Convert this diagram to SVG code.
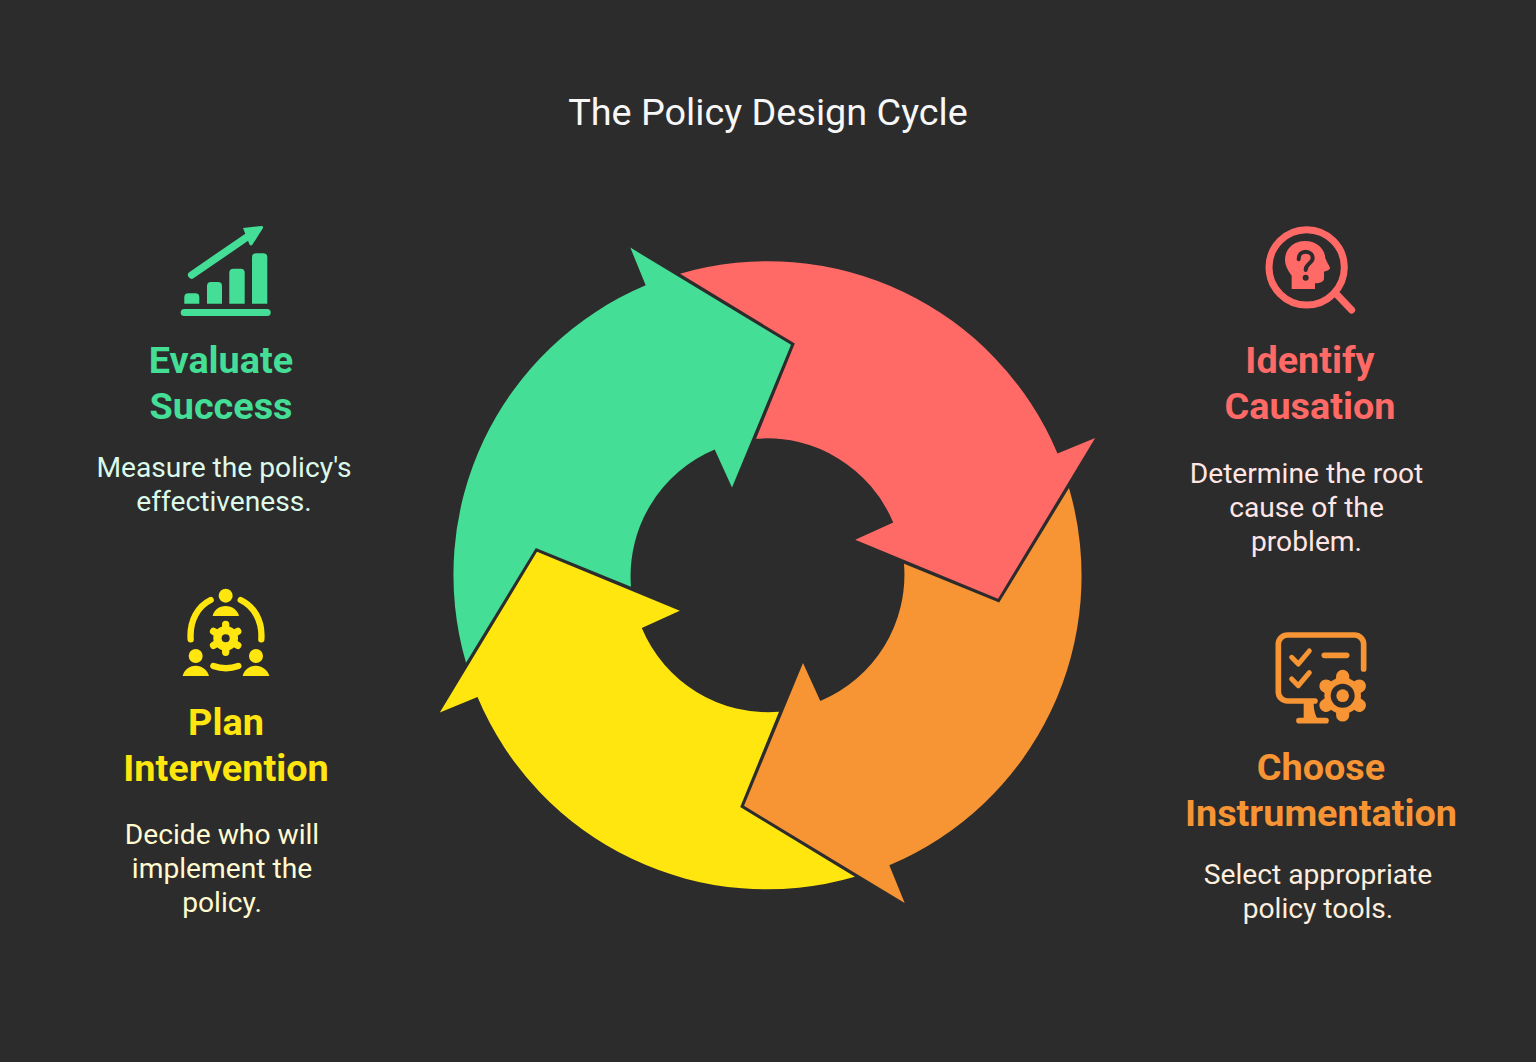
<svg xmlns="http://www.w3.org/2000/svg" width="1536" height="1062" viewBox="0 0 1536 1062">
<style>
text{font-family:Roboto,"Liberation Sans",sans-serif;text-anchor:middle}
.t{font-size:37.8px;font-weight:700}
.d{font-size:28.2px}
.title{font-size:37.8px;fill:#f7f7f7}
.ln{fill:none;stroke-linecap:round;stroke-linejoin:round}
.red{fill:#ff6966}.ora{fill:#f79434}.yel{fill:#ffe60f}.grn{fill:#44de96}
.sred{stroke:#ff6966}.sora{stroke:#f79434}.syel{stroke:#ffe60f}.sgrn{stroke:#44de96}
</style>
<defs>
<path id="arrow" d="M-87.4-301.5A314 314 0 0 1 290-121.8L327.7-137.2 230.5 23.5 87.7-35.5 125.7-52.8A137 137 0 0 0-11.5-136.5L27.3-231.7Z"/>
<g id="gear6"><line x1="0" y1="-1" x2="0" y2="1"/><line x1="-.866" y1="-.5" x2=".866" y2=".5"/><line x1="-.866" y1=".5" x2=".866" y2="-.5"/></g>
</defs>
<rect width="1536" height="1062" fill="#2c2c2c"/>
<text class="title" x="768" y="125">The Policy Design Cycle</text>
<g id="cycle" transform="translate(767.5 575.3)">
<use href="#arrow" class="red"/>
<use href="#arrow" class="ora" transform="rotate(90)"/>
<use href="#arrow" class="yel" transform="rotate(180)"/>
<use href="#arrow" class="grn" transform="rotate(270)"/>
</g>
<g id="identify">
<g transform="translate(1250 215) scale(.3333)">
<circle class="ln sred" cx="170" cy="157" r="113" stroke-width="21"/>
<line class="ln sred" x1="262" y1="240" x2="305" y2="285" stroke-width="21"/>
<path class="red" d="M125 222V182C112 165 105 150 105 135C105 100 132 78 165 78C200 78 224 100 226 130C232 145 240 155 240 160C238 166 230 168 222 170V190C222 200 212 205 195 205V222Z"/>
<path class="ln" stroke="#2c2c2c" stroke-width="12" d="M146 133C146 118 155 110 167 110C180 110 188 119 188 130C188 145 167 145 167 165"/>
<circle cx="167" cy="188" r="9" fill="#2c2c2c"/>
</g>
<text class="t red" x="1310" y="373">Identify</text>
<text class="t red" x="1310" y="418.5">Causation</text>
<g fill="#ffe6e5" class="d"><text x="1306.5" y="483">Determine the root</text><text x="1306.5" y="517">cause of the</text><text x="1306.5" y="551">problem.</text></g>
</g>
<g id="choose">
<g transform="translate(1265 625) scale(.3333)">
<path class="ln sora" stroke-width="17" d="M296 132V58C296 42 284 30 268 30H68C52 30 40 42 40 58V200C40 216 52 228 68 228H150"/>
<path class="ora" d="M116 228H146C146 250 148 265 158 282H116Z"/>
<line class="ln sora" stroke-width="17" x1="102" y1="287" x2="183" y2="287"/>
<path class="ln sora" stroke-width="15" d="M80 97L100 117L133 78M80 162L100 182L133 143"/>
<line class="ln sora" stroke-width="17" x1="178" y1="91" x2="245" y2="91"/>
<g transform="translate(233 212)">
<circle r="66" fill="#2c2c2c"/>
<use href="#gear6" transform="scale(58)" stroke="#2c2c2c" stroke-width=".9" stroke-linecap="round"/>
<circle r="55" class="ora"/>
<use href="#gear6" transform="scale(58)" class="sora" stroke-width=".68" stroke-linecap="round"/>
<circle r="36" fill="#2c2c2c"/><circle r="19" class="ora"/>
</g>
</g>
<text class="t ora" x="1321" y="780">Choose</text>
<text class="t ora" x="1321" y="825.5">Instrumentation</text>
<g fill="#fdeede" class="d"><text x="1318" y="884">Select appropriate</text><text x="1318" y="918">policy tools.</text></g>
</g>
<g id="plan">
<g transform="translate(170 580) scale(.3333)">
<circle class="yel" cx="167" cy="47" r="21"/>
<path class="yel" d="M128 108C131 90 148 78 167 78C186 78 203 90 207 108Z"/>
<path class="ln syel" stroke-width="19" d="M122 60C85 78 58 120 62 178M212 60C250 78 278 120 274 178M130 258C155 267 180 267 205 258"/>
<circle class="yel" cx="77" cy="228" r="21"/>
<path class="yel" d="M38 288C41 270 58 257 77 257C96 257 113 270 117 288Z"/>
<circle class="yel" cx="258" cy="228" r="21"/>
<path class="yel" d="M218 288C221 270 238 257 257 257C276 257 294 270 298 288Z"/>
<g transform="translate(167 175)">
<circle r="37" class="yel"/>
<use href="#gear6" transform="scale(42)" class="syel" stroke-width=".52" stroke-linecap="round"/>
<circle r="12" fill="#2c2c2c"/>
</g>
</g>
<text class="t yel" x="226" y="735">Plan</text>
<text class="t yel" x="226" y="780.5">Intervention</text>
<g fill="#fffad0" class="d"><text x="222" y="844">Decide who will</text><text x="222" y="878">implement the</text><text x="222" y="912">policy.</text></g>
</g>
<g id="evaluate">
<g class="grn">
<rect x="180.7" y="309" width="90" height="7" rx="3.5"/>
<path d="M184.3 303.7V297.3Q184.3 293.3 188.3 293.3H195.3Q199.3 293.3 199.3 297.3V303.7Z"/>
<path d="M207 303.7V286Q207 282 211 282H218Q222 282 222 286V303.7Z"/>
<path d="M229.3 303.7V272.7Q229.3 268.7 233.3 268.7H240.7Q244.7 268.7 244.7 272.7V303.7Z"/>
<path d="M252 303.7V257.3Q252 253.3 256 253.3H263.3Q267.3 253.3 267.3 257.3V303.7Z"/>
<path d="M243 228L261.5 226Q263.5 226 263 228L252.5 244.5Q250.5 246.5 249.5 244.5Z"/>
</g>
<line class="ln sgrn" stroke-width="7.5" x1="191.7" y1="275" x2="250" y2="235"/>
<text class="t grn" x="221" y="373">Evaluate</text>
<text class="t grn" x="221" y="418.5">Success</text>
<g fill="#dcf9ea" class="d"><text x="224" y="477">Measure the policy's</text><text x="224" y="511">effectiveness.</text></g>
</g>
</svg>
